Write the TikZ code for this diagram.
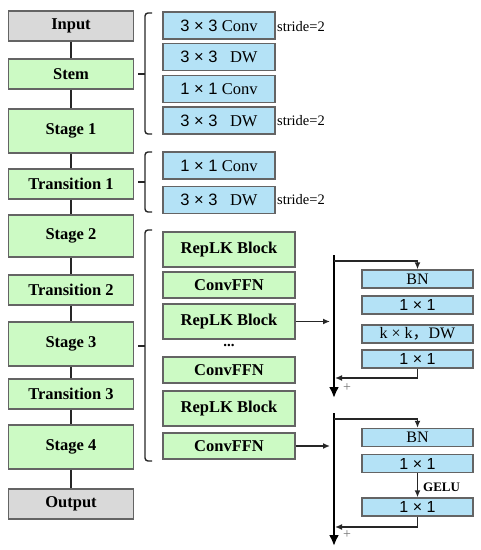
\documentclass[tikz,border=0pt]{standalone}
\usepackage{fontspec}
\setmainfont{Liberation Serif}
\newfontfamily\numf{Liberation Sans}
\newfontfamily\cjk{Noto Sans CJK SC}
\usetikzlibrary{arrows.meta}
\definecolor{boxgreen}{RGB}{204,250,196}
\definecolor{boxblue}{RGB}{180,226,246}
\definecolor{boxgray}{RGB}{217,217,217}
\definecolor{boxline}{RGB}{100,100,100}

\tikzset{
 base/.style={draw=boxline,line width=1.4pt,inner sep=0pt,align=center},
 stagebox/.style={base,fill=boxgreen,minimum width=125pt,font=\fontsize{16.5}{18}\selectfont\bfseries},
 iobox/.style={stagebox,fill=boxgray,minimum height=30pt},
 opbox/.style={base,fill=boxblue,minimum width=112pt,minimum height=27pt,font=\fontsize{16.5}{18}\selectfont},
 blockbox/.style={base,fill=boxgreen,minimum width=132pt,font=\fontsize{16.5}{18}\selectfont\bfseries},
 layerbox/.style={base,fill=boxblue,minimum width=111pt,minimum height=18pt,font=\fontsize{16}{17}\selectfont},
 note/.style={anchor=west,inner sep=0pt,font=\fontsize{14.5}{16}\selectfont},
 plus/.style={inner sep=0pt,text=black!55,font=\fontsize{14}{14}\selectfont},
 link/.style={line width=1.4pt,draw=black!85},
 tip/.style={-{Latex[length=7pt,width=6pt]}},
 trunk/.style={line width=2.4pt,-{Latex[length=11pt,width=10pt]}},
}

\begin{document}
\begin{tikzpicture}[x=1pt,y=-1pt]
\useasboundingbox (0,0) rectangle (481,550);

% left column
\node[iobox] (input) at (71,26) {Input};
\foreach \n/\y/\h/\txt in {stem/74/30pt/Stem, st1/131/44pt/Stage 1, tr1/184/30pt/Transition 1, st2/236/42pt/Stage 2, tr2/290/30pt/Transition 2, st3/344/44pt/Stage 3, tr3/394/30pt/Transition 3, st4/447/44pt/Stage 4}
{
\node[stagebox,minimum height=\h] (\n) at (71,\y) {\txt};
}
\node[iobox] (output) at (71,504) {Output};

\foreach \a/\b in {input/stem,stem/st1,st1/tr1,tr1/st2,st2/tr2,tr2/st3,st3/tr3,tr3/st4,st4/output}
{
\draw[link] (\a) -- (\b);
}

% braces
\draw[link,rounded corners=3pt] (152,13) -- (145,13) -- (145,134) -- (152,134);
\draw[link] (145,74) -- (138,74);
\draw[link,rounded corners=3pt] (152,152) -- (145,152) -- (145,212) -- (152,212);
\draw[link] (145,182) -- (138,182);
\draw[link,rounded corners=3pt] (152,230) -- (145,230) -- (145,461) -- (152,461);
\draw[link] (145,346) -- (138,346);

% stem and transition layers
\foreach \n/\y/\txt in {c1/25.5/{{\numf 3 × 3} Conv}, c2/57/{{\numf 3 × 3}\enspace\ DW}, c3/89/{{\numf 1 × 1} Conv}, c4/120.5/{{\numf 3 × 3}\enspace\ DW}, c5/165.5/{{\numf 1 × 1} Conv}, c6/200/{{\numf 3 × 3}\enspace\ DW}}
{
\node[opbox] (\n) at (219,\y) {\txt};
}
\node[note] (s1) at (277,27) {stride=2};
\node[note] (s4) at (277,121) {stride=2};
\node[note] (s6) at (277,200) {stride=2};

% stage blocks
\foreach \n/\y/\h/\txt in {repA/249.5/35pt/RepLK Block, ffnA/285/26pt/ConvFFN, repB/321.5/35pt/RepLK Block, ffnB/370/26pt/ConvFFN, repC/408.5/35pt/RepLK Block, ffnC/446/26pt/ConvFFN}
{
\node[blockbox,minimum height=\h] (\n) at (229,\y) {\txt};
}
\node[font=\fontsize{15}{15}\selectfont\bfseries] (dots) at (229,345) {...};

% RepLK block detail
\coordinate (topA) at (334,255);
\coordinate (botA) at (334,398);
\coordinate (splitA) at (334,261);
\coordinate (mergeA) at (335,378);
\node[layerbox] (bnA) at (417.5,279) {BN};
\node[layerbox] (caA) at (417.5,305) {\numf 1 × 1};
\node[layerbox] (kkA) at (417.5,334) {k × k{\cjk ，}DW};
\node[layerbox] (cbA) at (417.5,359) {\numf 1 × 1};
\draw[trunk] (topA) -- (botA);
\draw[link,tip,shorten >=4pt] (repB.east) -- (repB.east -| topA);
\draw[link,tip] (splitA) -| (bnA.north);
\draw[link,tip] (cbA.south) |- (mergeA);
\node[plus] (plusA) at (347,388) {+};

% ConvFFN detail
\coordinate (topB) at (334,413);
\coordinate (botB) at (334,546);
\coordinate (splitB) at (334,419);
\coordinate (mergeB) at (335,527);
\node[layerbox] (bnB) at (417.5,437.5) {BN};
\node[layerbox] (caB) at (417.5,463.5) {\numf 1 × 1};
\node[layerbox] (cbB) at (417.5,507) {\numf 1 × 1};
\draw[trunk] (topB) -- (botB);
\draw[link,tip,shorten >=4pt] (ffnC.east) -- (ffnC.east -| topB);
\draw[link,tip] (splitB) -| (bnB.north);
\draw[link,tip] (caB.south) -- (cbB.north);
\node[anchor=west,inner sep=0pt,font=\fontsize{13}{13}\selectfont\bfseries] (gelu) at (423,487) {GELU};
\draw[link,tip] (cbB.south) |- (mergeB);
\node[plus] (plusB) at (347,535) {+};
\end{tikzpicture}
\end{document}
